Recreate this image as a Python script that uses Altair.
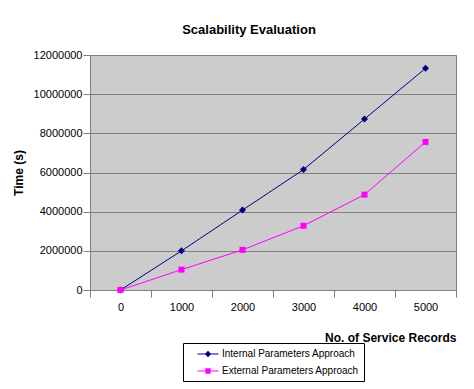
import altair as alt
import pandas as pd

records = ["0", "1000", "2000", "3000", "4000", "5000"]
internal = [0, 2000000, 4080000, 6150000, 8730000, 11320000]
external = [0, 1040000, 2050000, 3280000, 4870000, 7560000]
series = ["Internal Parameters Approach", "External Parameters Approach"]
colors = ["#000080", "#FF00FF"]
y_ticks = [0, 2000000, 4000000, 6000000, 8000000, 10000000, 12000000]

rows = []
for s, vals in zip(series, [internal, external]):
    for r, v in zip(records, vals):
        rows.append({"records": r, "time": v, "series": s})
df = pd.DataFrame(rows)

FONT = "Liberation Sans"

x_enc = alt.X(
    "records:O",
    sort=records,
    scale=alt.Scale(type="band", paddingInner=0, paddingOuter=0),
    axis=alt.Axis(
        title="No. of Service Records",
        labelAngle=0,
        tickBand="extent",
        titleAnchor="end",
        titleFont=FONT,
        titleFontSize=12,
        titleFontWeight="bold",
        titlePadding=20,
        labelFont=FONT,
        labelFontSize=11,
        labelColor="black",
        labelPadding=4,
        tickSize=7,
        tickColor="#808080",
        domainColor="#808080",
        grid=False,
    ),
)
y_enc = alt.Y(
    "time:Q",
    scale=alt.Scale(domain=[0, 12000000], nice=False),
    axis=alt.Axis(
        title="Time (s)",
        values=y_ticks,
        format="d",
        titleFont=FONT,
        titleFontSize=12,
        titleFontWeight="bold",
        titlePadding=8,
        labelFont=FONT,
        labelFontSize=11,
        labelColor="black",
        labelPadding=1,
        tickSize=7,
        tickColor="#808080",
        domainColor="#808080",
        grid=True,
        gridColor="#808080",
        gridOpacity=1,
    ),
)
color_scale = alt.Scale(domain=series, range=colors)

base = alt.Chart(df)

lines = base.mark_line(strokeWidth=1).encode(
    x=x_enc,
    y=y_enc,
    color=alt.Color("series:N", scale=color_scale, legend=None),
)

pts_int = base.transform_filter(alt.datum.series == series[0]).mark_point(
    filled=True, shape="diamond", size=49, opacity=1
).encode(x=x_enc, y=y_enc, color=alt.Color("series:N", scale=color_scale, legend=None))

pts_ext = base.transform_filter(alt.datum.series == series[1]).mark_point(
    filled=True, shape="square", size=36, opacity=1
).encode(x=x_enc, y=y_enc, color=alt.Color("series:N", scale=color_scale, legend=None))

legend_shapes = [
    "M-1.75,-0.08H1.75V0.08H-1.75Z M0,-0.55L0.55,0L0,0.55L-0.55,0Z",
    "M-1.75,-0.08H1.75V0.08H-1.75Z M-0.45,-0.45H0.45V0.45H-0.45Z",
]

legend_def = alt.Legend(
    title=None,
    orient="none",
    legendX=93,
    legendY=288,
    direction="vertical",
    strokeColor="black",
    fillColor="white",
    padding=5,
    symbolSize=144,
    symbolStrokeWidth=0,
    symbolOffset=14,
    labelOffset=8,
    labelFont=FONT,
    labelFontSize=10,
    labelColor="black",
    rowPadding=6,
)

legend_layer = base.transform_filter("false").mark_point(filled=True, opacity=1).encode(
    x=x_enc,
    y=y_enc,
    color=alt.Color("series:N", scale=color_scale, legend=legend_def),
    shape=alt.Shape(
        "series:N",
        scale=alt.Scale(domain=series, range=legend_shapes),
        legend=legend_def,
    ),
)

chart = alt.layer(lines, pts_int, pts_ext, legend_layer).resolve_legend(
    color="independent", shape="independent"
).properties(
    width=366,
    height=235,
    title=alt.TitleParams(
        "Scalability Evaluation",
        font=FONT,
        fontSize=13,
        fontWeight="bold",
        color="black",
        dx=-24,
        offset=12,
    ),
    autosize=alt.AutoSizeParams(type="none"),
    padding={"left": 82, "top": 47, "right": 10, "bottom": 110},
).configure_view(fill="#cccccc", stroke="#808080", strokeWidth=1)

chart.save("out.html", embed_options={"renderer": "svg", "actions": False})
